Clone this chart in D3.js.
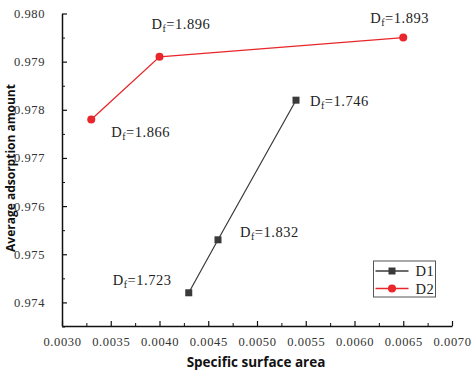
<!DOCTYPE html>
<html lang="en">
<head>
<meta charset="utf-8"/>
<style>
body { margin: 0; background: #fff; }
.lbl { font-family: "Liberation Serif", serif; font-size: 14.5px; fill: #222; letter-spacing: 0.5px; }
.title { font-family: "Open Sans", sans-serif; font-weight: bold; fill: #111; }
</style>
</head>
<body>
<svg width="474" height="372"></svg>
<script src="https://d3js.org/d3.v7.min.js"></script>
<script>

// series data
var d1X = [0.0043, 0.0046, 0.0054];
var d1Y = [0.9742, 0.9753, 0.9782];
var d1Df = ["1.723", "1.832", "1.746"];

var d2X = [0.0033, 0.0040, 0.0065];
var d2Y = [0.9778, 0.9791, 0.9795];
var d2Df = ["1.866", "1.896", "1.893"];

var xTicks = [0.0030, 0.0035, 0.0040, 0.0045, 0.0050, 0.0055, 0.0060, 0.0065, 0.0070];
var yTicks = [0.974, 0.975, 0.976, 0.977, 0.978, 0.979, 0.980];

var svg = d3.select("svg"),
    margin = {top: 13.5, right: 22, bottom: 46, left: 62},
    width = +svg.attr("width") - margin.left - margin.right,
    height = +svg.attr("height") - margin.top - margin.bottom,
    g = svg.append("g").attr("transform", "translate(" + margin.left + "," + margin.top + ")");

var x = d3.scaleLinear().domain([0.003, 0.007]).range([0, width]);
var y = d3.scaleLinear().domain([0.97351, 0.980]).range([height, 0]);

var black = "#3a3a3a", red = "#e8262b";

// minor ticks
var xMinor = d3.range(0.00325, 0.007, 0.0005);
var yMinor = d3.range(0.9735, 0.980, 0.001);

g.append("g")
  .attr("transform", "translate(0," + height + ")")
  .call(d3.axisBottom(x).tickValues(xMinor).tickSize(-3).tickFormat(""))
  .call(function(a) { a.select(".domain").remove(); });
g.append("g")
  .call(d3.axisLeft(y).tickValues(yMinor).tickSize(-3).tickFormat(""))
  .call(function(a) { a.select(".domain").remove(); });

// main axes, ticks pointing inward
function styleAxis(a) {
  a.select(".domain").attr("stroke-width", 1.5);
  a.selectAll(".tick line").attr("stroke-width", 1.2);
  a.selectAll(".tick text")
    .style("font-family", "'Liberation Serif', 'DejaVu Serif', serif")
    .style("font-size", "12.5px")
    .style("letter-spacing", "0.6px")
    .style("fill", "#333");
}
g.append("g")
  .attr("transform", "translate(0," + height + ")")
  .call(d3.axisBottom(x).tickValues(xTicks).tickSize(-5).tickPadding(11).tickSizeOuter(0).tickFormat(d3.format(".4f")))
  .call(styleAxis);
g.append("g")
  .call(d3.axisLeft(y).tickValues(yTicks).tickSize(-5).tickPadding(17).tickSizeOuter(0).tickFormat(d3.format(".3f")))
  .call(styleAxis);

svg.selectAll(".tick line").attr("stroke", "#111");
svg.selectAll(".domain").attr("stroke", "#111");

var line = d3.line().x(function(d) { return x(d[0]); }).y(function(d) { return y(d[1]); });
var d1 = d3.zip(d1X, d1Y), d2 = d3.zip(d2X, d2Y);

g.append("path").datum(d1).attr("d", line).attr("fill", "none").attr("stroke", black).attr("stroke-width", 1.2);
g.append("path").datum(d2).attr("d", line).attr("fill", "none").attr("stroke", red).attr("stroke-width", 1.3);

g.selectAll(".sq").data(d1).enter().append("rect")
  .attr("x", function(d) { return x(d[0]) - 3.5; })
  .attr("y", function(d) { return y(d[1]) - 3.5; })
  .attr("width", 7).attr("height", 7).attr("fill", black);
g.selectAll(".ci").data(d2).enter().append("circle")
  .attr("cx", function(d) { return x(d[0]); })
  .attr("cy", function(d) { return y(d[1]); })
  .attr("r", 4).attr("fill", red);

// Df labels, offsets from their points
var d1Off = [[-76, -13], [22, -8], [14, 1]];
var d2Off = [[20, 13], [-8, -33], [-33, -20]];

function label(pts, texts, offs) {
  pts.forEach(function(p, i) {
    var t = g.append("text").attr("class", "lbl")
      .attr("x", x(p[0]) + offs[i][0])
      .attr("y", y(p[1]) + offs[i][1] + 5);
    t.append("tspan").text("D");
    t.append("tspan").attr("font-size", "10px").attr("dy", 3).text("f");
    t.append("tspan").attr("dy", -3).text("=" + texts[i]);
  });
}
label(d1, d1Df, d1Off);
label(d2, d2Df, d2Off);

// axis titles
svg.append("text").attr("class", "title").attr("font-size", 13.5)
  .attr("x", margin.left + x(0.00499)).attr("y", 367)
  .attr("text-anchor", "middle").text("Specific surface area");
svg.append("text").attr("class", "title").attr("font-size", 12)
  .attr("transform", "translate(15,168) rotate(-90)")
  .attr("text-anchor", "middle").text("Average adsorption amount");

// legend
var lg = svg.append("g").attr("transform", "translate(373.5,261)");
lg.append("rect").attr("width", 62).attr("height", 36)
  .attr("fill", "#fff").attr("stroke", "#555").attr("stroke-width", 1);
var items = [{name: "D1", c: black, sym: "sq"}, {name: "D2", c: red, sym: "ci"}];
items.forEach(function(it, i) {
  var yy = 10 + i * 17.5;
  lg.append("line").attr("x1", 2).attr("x2", 35).attr("y1", yy).attr("y2", yy)
    .attr("stroke", it.c).attr("stroke-width", 1.3);
  if (it.sym == "sq") {
    lg.append("rect").attr("x", 18.5 - 3.5).attr("y", yy - 3.5).attr("width", 7).attr("height", 7).attr("fill", it.c);
  } else {
    lg.append("circle").attr("cx", 18.5).attr("cy", yy).attr("r", 4).attr("fill", it.c);
  }
  lg.append("text").attr("class", "lbl").attr("x", 42).attr("y", yy + 5).text(it.name);
});

</script>
</body>
</html>
